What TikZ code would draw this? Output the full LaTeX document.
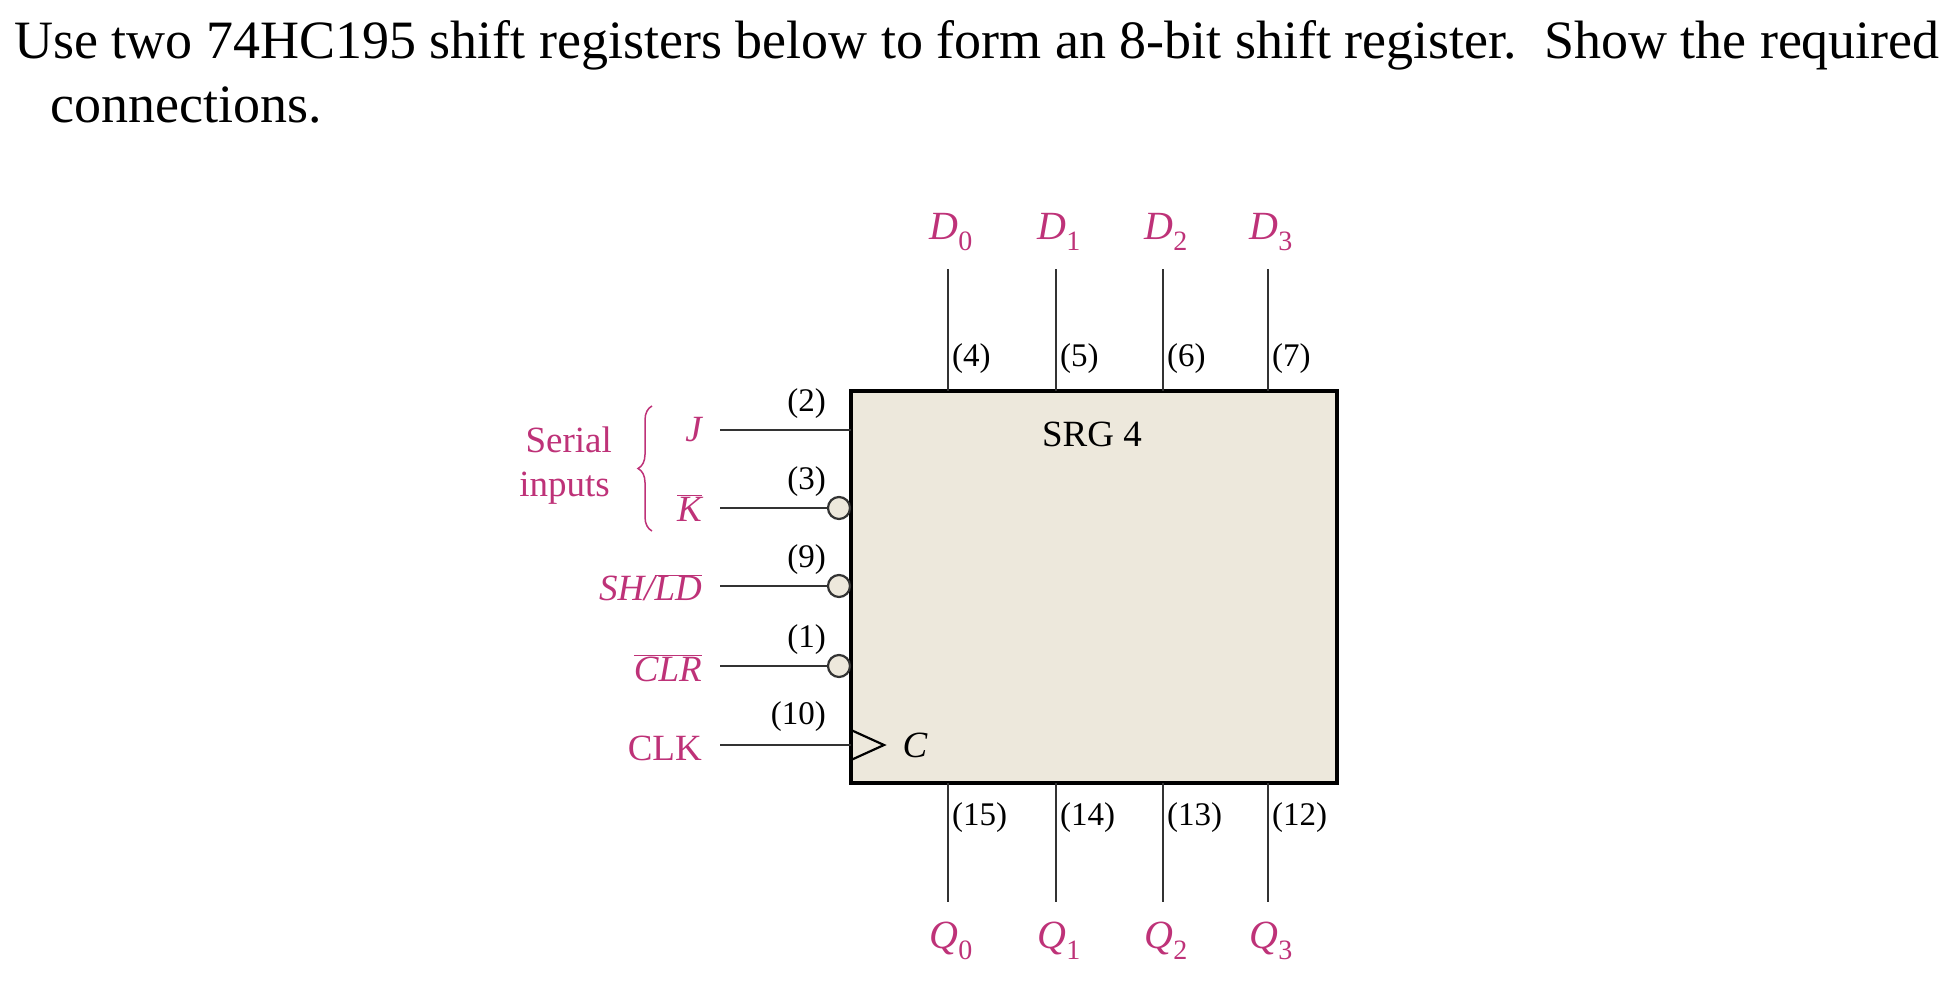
\documentclass[tikz,border=0pt]{standalone}
\usepackage{fontspec}
\setmainfont{Liberation Serif}
\usetikzlibrary{decorations.pathreplacing}
\definecolor{pk}{RGB}{190,50,120}
\definecolor{boxfill}{RGB}{237,232,220}
\newcommand{\ovl}[1]{\ensuremath{\overline{\mbox{#1}}}}
\newcommand{\sbs}[1]{\raisebox{-0.28em}{\fontsize{28}{30}\selectfont\upshape #1}}
\begin{document}
\begin{tikzpicture}[x=1pt,y=-1pt,
  lab/.style={text=pk,font=\fontsize{37}{40}\selectfont,inner sep=0pt},
  ilab/.style={text=pk,font=\fontsize{37}{40}\selectfont\itshape,inner sep=0pt},
  pin/.style={font=\fontsize{33}{35}\selectfont,inner sep=0pt},
  wire/.style={line width=2.2pt,draw=black!80},
  bub/.style={circle,draw=black!80,line width=2.2pt,fill=boxfill,minimum size=22pt,inner sep=0pt}]
\useasboundingbox (0,0) rectangle (1959,988);
\node[anchor=base west,inner sep=0pt,font=\fontsize{54}{58}\selectfont] (t1) at (14,58) {Use two 74HC195 shift registers below to form an 8-bit shift register.\ \ Show the required};
\node[anchor=base west,inner sep=0pt,font=\fontsize{54}{58}\selectfont] (t2) at (50,122) {connections.};
\draw[line width=4.5pt,fill=boxfill] (851,391) rectangle (1337,783);
\node[pin,font=\fontsize{37}{40}\selectfont] (srg) at (1092,434) {SRG 4};
\foreach \x/\n/\p in {948/0/4,1056/1/5,1163/2/6,1268/3/7}{
  \coordinate (dt\n) at (\x,269); \coordinate (db\n) at (\x,391);
  \draw[wire] (dt\n) -- (db\n);
  \node[ilab,font=\fontsize{40}{42}\selectfont\itshape] (dl\n) at (\x+3,232) {D\sbs{\n}};
  \node[pin,anchor=west] (dp\n) at (\x+4,359) {(\p)};
}
\foreach \x/\n/\p in {948/0/15,1056/1/14,1163/2/13,1268/3/12}{
  \coordinate (qt\n) at (\x,783); \coordinate (qb\n) at (\x,902);
  \draw[wire] (qt\n) -- (qb\n);
  \node[ilab,font=\fontsize{40}{42}\selectfont\itshape] (ql\n) at (\x+3,941) {Q\sbs{\n}};
  \node[pin,anchor=west] (qp\n) at (\x+4,818) {(\p)};
}
\coordinate (j0) at (720,430); \coordinate (j1) at (851,430);
\draw[wire] (j0) -- (j1);
\node[ilab,anchor=east] (jl) at (702,430) {J};
\node[pin,anchor=east] (jp) at (826,404) {(2)};
\foreach \y/\nm/\p in {508/k/3,586/s/9,666/c/1}{
  \node[bub] (b\nm) at (839,\y) {};
  \coordinate (w\nm) at (720,\y);
  \draw[wire] (w\nm) -- (b\nm.west);
  \node[pin,anchor=east] (p\nm) at (826,\y-26) {(\p)};
}
\node[ilab,anchor=east] (kl) at (702,508) {\ovl{K}};
\node[ilab,anchor=east] (sl) at (702,588) {SH/\ovl{LD}};
\node[ilab,anchor=east] (cl) at (702,668) {\ovl{CLR}};
\coordinate (k0) at (720,745); \coordinate (k1) at (851,745);
\draw[wire] (k0) -- (k1);
\node[lab,anchor=east] (kkl) at (702,748) {CLK};
\node[pin,anchor=east] (kp) at (826,717) {(10)};
\draw[line width=2.2pt] (851,730) -- (884,745) -- (851,760);
\node[ilab,text=black] (cc) at (915,745) {C};
\draw[pk,line width=1.5pt,decorate,decoration={brace,amplitude=14pt}] (652,531) -- (652,406);
\node[lab,anchor=east] (ser) at (612,440) {Serial};
\node[lab,anchor=east] (inp) at (610,488) {inputs};
\end{tikzpicture}
\end{document}
